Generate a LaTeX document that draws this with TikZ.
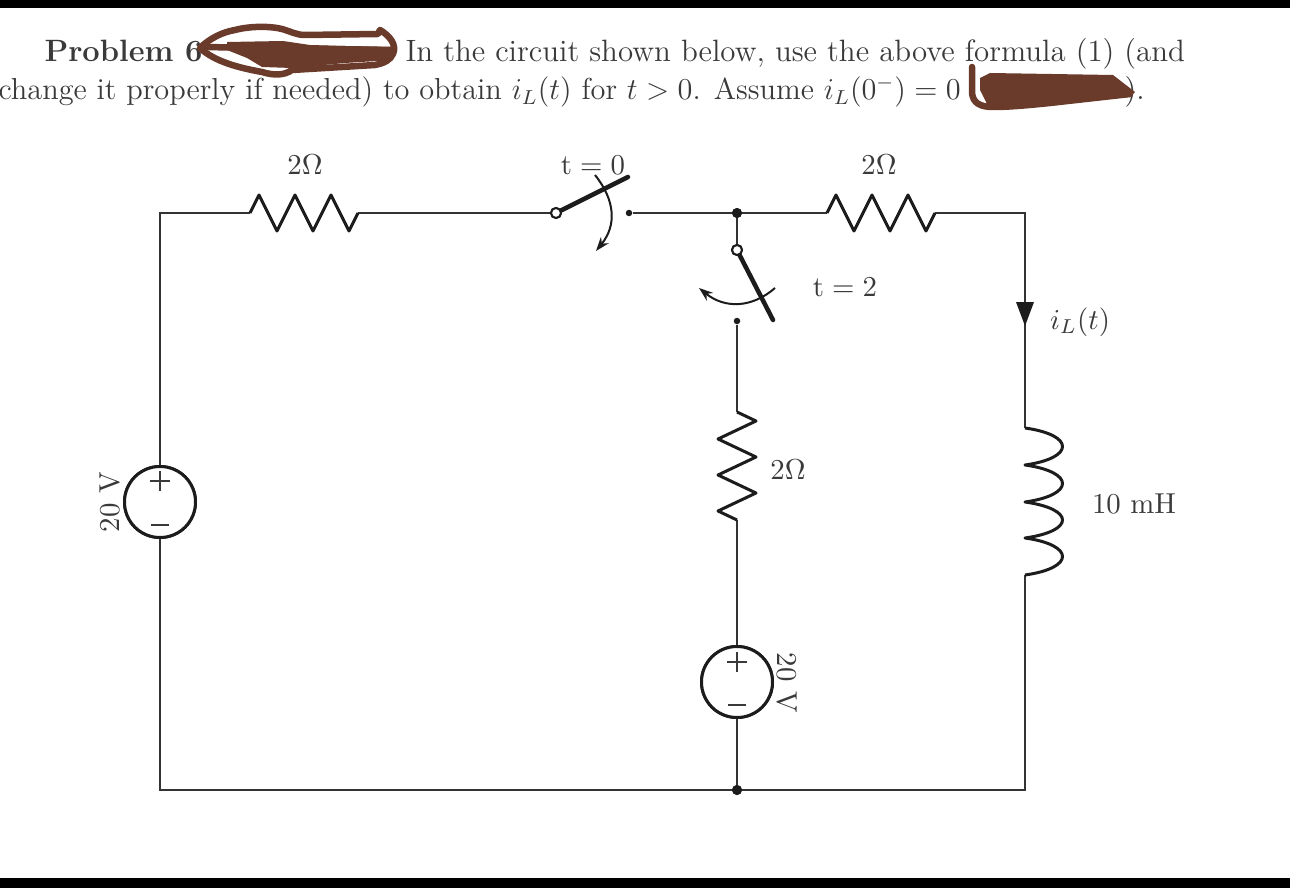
\documentclass[tikz,border=0pt]{standalone}
\usepackage{amsmath}
\usetikzlibrary{arrows.meta}
\definecolor{ink}{HTML}{1C1C1C}
\definecolor{txt}{HTML}{3A3A3A}
\definecolor{wirec}{HTML}{333333}
\definecolor{scrib}{HTML}{6A3A2B}
\tikzset{
  wire/.style={draw=wirec,line width=0.042cm},
  comp/.style={draw=ink,line width=0.06cm,line join=round},
  blade/.style={draw=ink,line width=0.09cm,line cap=round},
  swing/.style={draw=ink,line width=0.04cm,-{Stealth[length=0.28cm,width=0.2cm]}},
  dotn/.style={circle,fill=ink,inner sep=0pt,minimum size=0.13cm},
  junc/.style={circle,fill=ink,inner sep=0pt,minimum size=0.2cm},
  opn/.style={circle,draw=ink,fill=white,line width=0.04cm,inner sep=0pt,minimum size=0.2cm},
  src/.style={circle,draw=ink,fill=white,line width=0.06cm,inner sep=0pt,minimum size=1.42cm},
  lab/.style={text=txt,inner sep=0pt,scale=1.64,font=\fontsize{10}{12}\selectfont},
  para/.style={text=txt,inner sep=0pt,anchor=base west,scale=1.464,font=\fontsize{12}{14}\selectfont},
  sym/.style={draw=txt,line width=0.03cm},
  scr/.style={draw=scrib,line width=0.13cm,line cap=round,line join=round}
}
\begin{document}
\begin{tikzpicture}[x=0.02cm,y=-0.02cm]
\useasboundingbox (0,0) rectangle (1290,888);
\fill[white] (0,0) rectangle (1290,888);
\fill[black] (0,0) rectangle (1290,8);
\fill[black] (0,878) rectangle (1290,888);
% paragraph
\node[para] (p1) at (44,62) {\textbf{Problem 6}};
\node[para] (p2) at (405,62) {In the circuit shown below, use the above formula (1) (and};
\node[para,scale=0.983] (p3) at (-2,100) {change it properly if needed) to obtain $i_L(t)$ for $t>0$. Assume $i_L(0^-)=0$};
\node[para] (p4) at (1124,100) {).};
% scribbles
\draw[scr] (200,48) .. controls (210,38) and (223,32) .. (235,30) .. controls (250,26) and (270,26) .. (282,29) .. controls (292,32) and (297,35) .. (305,35) -- (378,34) -- (380,30) .. controls (390,36) and (397,45) .. (393,54) .. controls (390,60) and (385,63) .. (375,65) -- (292,70) .. controls (285,75) and (275,76) .. (262,72) .. controls (240,68) and (215,62) .. (200,48) -- cycle;
\fill[scrib] (227,42) -- (283,41) -- (310,45) -- (345,46) -- (393,47) -- (393,60) -- (345,63) -- (292,68) -- (262,67) -- (247,58) -- (227,50) -- cycle;
\draw[scr] (202,47) -- (393,50);
% second scribble
\draw[scr] (972,67) -- (972,93) .. controls (973,103) and (980,107) .. (993,107) .. controls (1010,107) and (1030,105) .. (1050,103) -- (1130,94);
\fill[scrib] (980,78) -- (990,73) -- (1113,75) -- (1135,92) -- (1130,97) -- (1050,104) -- (987,104) -- (980,90) -- cycle;
% coordinates
\coordinate (tl) at (160,213);
\coordinate (tr) at (1025,213);
\coordinate (bl) at (160,790);
\coordinate (br) at (1025,790);
\node[junc] (jt) at (737,213) {};
\node[junc] (jb) at (737,790) {};
\node[src] (vl) at (160,502) {};
\node[src] (vm) at (737,682) {};
\node[opn] (s1a) at (556,213) {};
\node[dotn] (s1b) at (629,213) {};
\node[opn] (s2a) at (737,250) {};
\node[dotn] (s2b) at (737,321) {};
\coordinate (r1a) at (250,213);
\coordinate (r1b) at (358,213);
\coordinate (r2a) at (827,213);
\coordinate (r2b) at (935,213);
\coordinate (r3a) at (737,412);
\coordinate (r3b) at (737,520);
\coordinate (la) at (1025,428);
\coordinate (lb) at (1025,575);
\coordinate (b1) at (628,177);
\coordinate (b2) at (773,320);
% wires
\draw[wire] (vl) -- (tl) -- (r1a);
\draw[wire] (r1b) -- (s1a);
\draw[wire] (s1b) -- (jt) -- (r2a);
\draw[wire] (r2b) -- (tr) -- (la);
\draw[wire] (lb) -- (br) -- (jb) -- (bl) -- (vl);
\draw[wire] (jt) -- (s2a);
\draw[wire] (s2b) -- (r3a);
\draw[wire] (r3b) -- (vm);
\draw[wire] (vm) -- (jb);
% redraw on top of wires
\node[src] at (160,502) {};
\node[src] at (737,682) {};
\node[junc] at (737,213) {};
\node[junc] at (737,790) {};
% resistors
\draw[comp] (r1a) -- ++(9,-18) -- ++(18,36) -- ++(18,-36) -- ++(18,36) -- ++(18,-36) -- ++(18,36) -- (r1b);
\draw[comp] (r2a) -- ++(9,-18) -- ++(18,36) -- ++(18,-36) -- ++(18,36) -- ++(18,-36) -- ++(18,36) -- (r2b);
\draw[comp] (r3a) -- ++(19,9) -- ++(-38,18) -- ++(38,18) -- ++(-38,18) -- ++(38,18) -- ++(-38,18) -- (r3b);
% inductor
\draw[comp] (la) .. controls (1075,435) and (1075,458) .. (1025,465) .. controls (1075,472) and (1075,495) .. (1025,502) .. controls (1075,509) and (1075,531) .. (1025,538) .. controls (1075,545) and (1075,568) .. (lb);
% arrow of current
\fill[ink] (1016,302) -- (1034,302) -- (1025,326) -- cycle;
% switches
\draw[blade] (s1a) -- (b1);
\node[opn] at (556,213) {};
\draw[blade] (s2a) -- (b2);
\node[opn] at (737,250) {};
\draw[swing] (595,175) .. controls (615,200) and (617,225) .. (596,251);
\draw[swing] (775,288) .. controls (752,308) and (725,309) .. (699,288);
% source signs
\draw[sym] (150,481) -- (170,481) (160,471) -- (160,491);
\draw[sym] (151,525) -- (169,525);
\draw[sym] (727,662) -- (747,662) (737,652) -- (737,672);
\draw[sym] (728,705) -- (746,705);
% labels
\node[lab] (l1) at (305,165) {$2\Omega$};
\node[lab] (l2) at (593,165) {$\mathrm{t}=0$};
\node[lab] (l3) at (879,165) {$2\Omega$};
\node[lab] (l4) at (845,287) {$\mathrm{t}=2$};
\node[lab] (l5) at (1080,322) {$i_L(t)$};
\node[lab] (l6) at (788,470) {$2\Omega$};
\node[lab] (l7) at (1134,504) {10 mH};
\node[lab,rotate=90] (l8) at (110,502) {20 V};
\node[lab,rotate=-90] (l9) at (787,683) {20 V};
\end{tikzpicture}
\end{document}
